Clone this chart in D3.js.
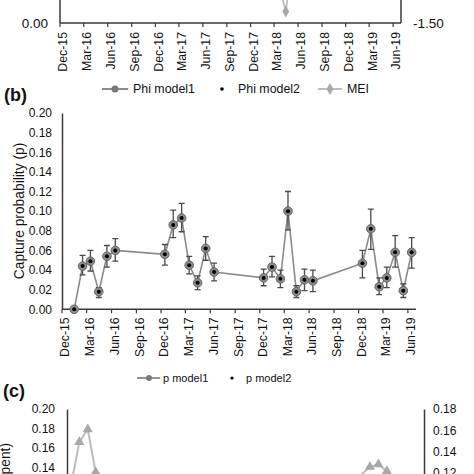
<!DOCTYPE html>
<html>
<head>
<meta charset="utf-8">
<script src="https://cdn.jsdelivr.net/npm/d3@7"></script>
<style>
body { margin: 0; background: #fff; }
text { font-family: Arial, "Liberation Sans", sans-serif; fill: #111; }
</style>
</head>
<body>
<svg id="fig" width="474" height="474"></svg>
<script>
var parse = d3.timeParse("%Y-%m-%d");

// shared x tick labels (every 3 months)
var tickLabels = ["Dec-15", "Mar-16", "Jun-16", "Sep-16", "Dec-16", "Mar-17", "Jun-17", "Sep-17",
  "Dec-17", "Mar-18", "Jun-18", "Sep-18", "Dec-18", "Mar-19", "Jun-19"];
var tickDates = tickLabels.map(d3.timeParse("%b-%y"));
var xDomain = [parse("2015-12-01"), parse("2019-07-01")];

// panel (a): only the bottom strip is in view
var meiDates = ["2018-03-15", "2018-04-15", "2018-05-15"];
var meiValues = [-0.64, -1.27, -0.1];

// panel (b): capture probability
var pDates = ["2016-01-15", "2016-02-15", "2016-03-15", "2016-04-15", "2016-05-15", "2016-06-15",
  "2016-12-15", "2017-01-15", "2017-02-15", "2017-03-15", "2017-04-15", "2017-05-15", "2017-06-15",
  "2017-12-15", "2018-01-15", "2018-02-15", "2018-03-15", "2018-04-15", "2018-05-15", "2018-06-15",
  "2018-12-15", "2019-01-15", "2019-02-15", "2019-03-15", "2019-04-15", "2019-05-15", "2019-06-15"];
var pModel1 = [0.000, 0.044, 0.049, 0.018, 0.054, 0.060,
  0.056, 0.086, 0.093, 0.045, 0.027, 0.062, 0.038,
  0.032, 0.043, 0.031, 0.100, 0.018, 0.030, 0.029,
  0.047, 0.082, 0.023, 0.032, 0.058, 0.019, 0.058];
var pLower = [0.000, 0.035, 0.039, 0.012, 0.043, 0.049,
  0.045, 0.073, 0.079, 0.036, 0.020, 0.050, 0.029,
  0.024, 0.033, 0.022, 0.081, 0.012, 0.019, 0.018,
  0.032, 0.061, 0.015, 0.022, 0.043, 0.012, 0.042];
var pUpper = [0.000, 0.055, 0.060, 0.022, 0.065, 0.072,
  0.066, 0.101, 0.108, 0.054, 0.034, 0.074, 0.047,
  0.041, 0.054, 0.040, 0.120, 0.024, 0.041, 0.040,
  0.060, 0.102, 0.032, 0.043, 0.075, 0.026, 0.073];

// panel (c): only the top strip is in view
var cLeftTicks = [0.14, 0.16, 0.18, 0.20];
var cRightTicks = [0.12, 0.14, 0.16, 0.18];
var cDates = ["2015-12-15", "2016-01-15", "2016-02-15", "2016-03-15", "2016-04-15",
  "2018-10-15", "2018-12-15", "2019-01-15", "2019-02-15", "2019-03-15"];
var cValues = [0.12, 0.166, 0.179, 0.135, 0.12,
  0.125, 0.1405, 0.143, 0.136, 0.125];
var cGroups = [0, 0, 0, 0, 0, 1, 1, 1, 1, 1];

var svg = d3.select("#fig");
var axisCol = "#3a3a3a", lineCol = "#8a8a8a", lightCol = "#bdbdbd";

function dateAxis(g, x, y0, fontSize, gap) {
  g.append("line").attr("x1", x.range()[0]).attr("x2", x.range()[1])
    .attr("y1", y0).attr("y2", y0).attr("stroke", axisCol).attr("stroke-width", 1.5);
  g.selectAll(".tk").data(tickDates).enter().append("line")
    .attr("x1", function(d) { return x(d); }).attr("x2", function(d) { return x(d); })
    .attr("y1", y0).attr("y2", y0 + 4).attr("stroke", axisCol).attr("stroke-width", 1.2);
  g.selectAll(".tl").data(tickDates).enter().append("text")
    .attr("transform", function(d) { return "translate(" + (x(d) + 3) + "," + (y0 + gap) + ") rotate(-90)"; })
    .attr("text-anchor", "end").attr("dy", "0.35em")
    .style("font-size", fontSize + "px")
    .text(function(d, i) { return tickLabels[i]; });
}

function styleAxis(g) {
  g.select(".domain").attr("stroke", axisCol).attr("stroke-width", 1.5);
  g.selectAll("text").style("font-size", "12px").attr("fill", "#111")
    .style("font-family", "Arial, 'Liberation Sans', sans-serif");
}

// ---------- panel (a) ----------
var xA = d3.scaleTime().domain(xDomain).range([60, 401]);
var yMEI = d3.scaleLinear().domain([-1.5, 2.5]).range([23, -177]);
var gA = svg.append("g");
gA.append("line").attr("x1", 60).attr("x2", 60).attr("y1", -10).attr("y2", 23).attr("stroke", axisCol).attr("stroke-width", 1.5);
gA.append("line").attr("x1", 401).attr("x2", 401).attr("y1", -10).attr("y2", 23).attr("stroke", axisCol).attr("stroke-width", 1.5);
gA.append("text").attr("x", 48).attr("y", 23).attr("dy", "0.35em").attr("text-anchor", "end")
  .style("font-size", "13.5px").text("0.00");
gA.append("text").attr("x", 413).attr("y", 23).attr("dy", "0.35em")
  .style("font-size", "13.5px").text("-1.50");
dateAxis(gA, xA, 23, 12.3, 9);

var mei = meiDates.map(function(d, i) { return {date: parse(d), v: meiValues[i]}; });
gA.append("path").datum(mei)
  .attr("d", d3.line().x(function(d) { return xA(d.date); }).y(function(d) { return yMEI(d.v); }))
  .attr("fill", "none").attr("stroke", lightCol).attr("stroke-width", 1.8);
gA.selectAll(".mei").data(mei).enter().append("path")
  .attr("transform", function(d) { return "translate(" + xA(d.date) + "," + yMEI(d.v) + ")"; })
  .attr("d", d3.symbol().type(d3.symbolDiamond).size(40)).attr("fill", "#a8a8a8");

// legend (a)
var lgA = svg.append("g");
lgA.append("line").attr("x1", 102).attr("x2", 128).attr("y1", 89).attr("y2", 89).attr("stroke", lineCol).attr("stroke-width", 2);
lgA.append("circle").attr("cx", 115).attr("cy", 89).attr("r", 3.5).attr("fill", "#7a7a7a");
lgA.append("text").attr("x", 133).attr("y", 89).attr("dy", "0.35em").style("font-size", "12.4px").text("Phi model1");
lgA.append("circle").attr("cx", 222).attr("cy", 89).attr("r", 1.8).attr("fill", "#000");
lgA.append("text").attr("x", 238).attr("y", 89).attr("dy", "0.35em").style("font-size", "12.4px").text("Phi model2");
lgA.append("line").attr("x1", 318).attr("x2", 342).attr("y1", 89).attr("y2", 89).attr("stroke", lightCol).attr("stroke-width", 2);
lgA.append("path").attr("transform", "translate(330,89)").attr("d", d3.symbol().type(d3.symbolDiamond).size(40)).attr("fill", "#a8a8a8");
lgA.append("text").attr("x", 347).attr("y", 89).attr("dy", "0.35em").style("font-size", "12.4px").text("MEI");

// ---------- panel (b) ----------
svg.append("text").attr("x", 27).attr("y", 101).attr("text-anchor", "end")
  .style("font-size", "18px").style("font-weight", "bold").text("(b)");

var xB = d3.scaleTime().domain(xDomain).range([62, 416]);
var yB = d3.scaleLinear().domain([0, 0.2]).range([309.3, 113]);
var gB = svg.append("g");

gB.append("g").attr("transform", "translate(62,0)")
  .call(d3.axisLeft(yB).tickValues(d3.range(0, 0.2001, 0.02)).tickFormat(d3.format(".2f")).tickSize(0).tickPadding(10))
  .call(styleAxis);
dateAxis(gB, xB, 309.3, 12.3, 8);

gB.append("text").attr("transform", "translate(19,211) rotate(-90)")
  .attr("text-anchor", "middle").attr("dy", "0.35em").style("font-size", "13.8px")
  .text("Capture probability (p)");

var pData = pDates.map(function(d, i) {
  return {date: parse(d), v: pModel1[i], lo: pLower[i], hi: pUpper[i]};
});
gB.append("path").datum(pData)
  .attr("d", d3.line().x(function(d) { return xB(d.date); }).y(function(d) { return yB(d.v); }))
  .attr("fill", "none").attr("stroke", lineCol).attr("stroke-width", 1.6);

gB.selectAll(".eb").data(pData.filter(function(d) { return d.hi > d.lo; })).enter().append("path")
  .attr("d", function(d) {
    var x = xB(d.date), a = yB(d.hi), b = yB(d.lo);
    return "M" + x + "," + a + "V" + b + "M" + (x - 3) + "," + a + "H" + (x + 3) + "M" + (x - 3) + "," + b + "H" + (x + 3);
  })
  .attr("fill", "none").attr("stroke", "#4a4a4a").attr("stroke-width", 1.3);

gB.selectAll(".m1").data(pData).enter().append("circle")
  .attr("cx", function(d) { return xB(d.date); }).attr("cy", function(d) { return yB(d.v); })
  .attr("r", 4.3).attr("fill", "#8c8c8c").attr("stroke", "#666").attr("stroke-width", 1);
gB.selectAll(".m2").data(pData).enter().append("circle")
  .attr("cx", function(d) { return xB(d.date); }).attr("cy", function(d) { return yB(d.v); })
  .attr("r", 2).attr("fill", "#000");

// legend (b)
var lgB = svg.append("g");
lgB.append("line").attr("x1", 137).attr("x2", 160).attr("y1", 378).attr("y2", 378).attr("stroke", lineCol).attr("stroke-width", 1.8);
lgB.append("circle").attr("cx", 149).attr("cy", 378).attr("r", 3).attr("fill", "#7a7a7a");
lgB.append("text").attr("x", 163).attr("y", 378).attr("dy", "0.35em").style("font-size", "11px").text("p model1");
lgB.append("circle").attr("cx", 232).attr("cy", 378).attr("r", 1.6).attr("fill", "#000");
lgB.append("text").attr("x", 246).attr("y", 378).attr("dy", "0.35em").style("font-size", "11px").text("p model2");

// ---------- panel (c) ----------
svg.append("text").attr("x", 25).attr("y", 397).attr("text-anchor", "end")
  .style("font-size", "18px").style("font-weight", "bold").text("(c)");

var xC = d3.scaleTime().domain(xDomain).range([67, 424]);
var yC = d3.scaleLinear().domain([0, 0.2]).range([603.3, 409]);
var yC2 = d3.scaleLinear().domain([0, 0.18]).range([600.7, 409]);
var gC = svg.append("g");
gC.append("g").attr("transform", "translate(67,0)")
  .call(d3.axisLeft(yC).tickValues(cLeftTicks).tickFormat(d3.format(".2f")).tickSize(0).tickPadding(12))
  .call(styleAxis);
gC.append("g").attr("transform", "translate(424,0)")
  .call(d3.axisRight(yC2).tickValues(cRightTicks).tickFormat(d3.format(".2f")).tickSize(0).tickPadding(9))
  .call(styleAxis);
gC.append("text").attr("transform", "translate(5,443) rotate(-90)")
  .attr("text-anchor", "end").attr("dy", "0.35em").style("font-size", "13.8px")
  .text("Proportion of time spent)");

var cData = cDates.map(function(d, i) { return {date: parse(d), v: cValues[i], g: cGroups[i]}; });
[0, 1].forEach(function(k) {
  gC.append("path").datum(cData.filter(function(d) { return d.g === k; }))
    .attr("d", d3.line().x(function(d) { return xC(d.date); }).y(function(d) { return yC(d.v); }))
    .attr("fill", "none").attr("stroke", lightCol).attr("stroke-width", 2);
});
gC.selectAll(".tri").data(cData).enter().append("path")
  .attr("transform", function(d) { return "translate(" + xC(d.date) + "," + yC(d.v) + ")"; })
  .attr("d", d3.symbol().type(d3.symbolTriangle).size(45)).attr("fill", "#a8a8a8");
</script>
</body>
</html>
